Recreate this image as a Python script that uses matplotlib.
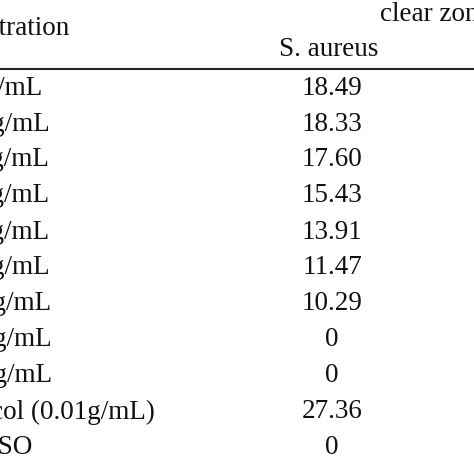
import matplotlib
matplotlib.use("Agg")
import matplotlib.pyplot as plt

labels = ["100mg/mL", "50mg/mL", "25mg/mL", "12.5mg/mL", "6.25mg/mL", "3.125mg/mL",
          "1.5625mg/mL", "0.78125mg/mL", "0.390625mg/mL", "Chloramphenicol (0.01g/mL)", "DMSO"]
label_ends = [43, 50, 50, 50, 50, 50, 52, 52, 52, 155, 33]
values = ["18.49", "18.33", "17.60", "15.43", "13.91", "11.47", "10.29", "0", "0", "27.36", "0"]

fig = plt.figure(figsize=(4.74, 4.74), dpi=100)
ax = fig.add_axes([0, 0, 1, 1])
ax.set_xlim(0, 474)
ax.set_ylim(474, 0)
ax.axis("off")
fp = dict(family=["Liberation Serif", "DejaVu Serif"], fontsize=19.5, color="#111111")

ax.text(70, 28, "Concentration", ha="right", va="center", **fp)
ax.text(380, 15, "clear zone (mm)", ha="left", va="center", **fp)
ax.text(329, 49, "S. aureus", ha="center", va="center", **fp)
ax.plot([0, 474], [69, 69], color="#222222", lw=1.5)

y0, dy = 88, 36
for i, (lab, xe, v) in enumerate(zip(labels, label_ends, values)):
    y = y0 + i * dy
    ax.text(xe, y, lab, ha="right", va="center", **fp)
    ax.text(332, y, v, ha="center", va="center", **fp)

fig.savefig("out.png", dpi=100)
